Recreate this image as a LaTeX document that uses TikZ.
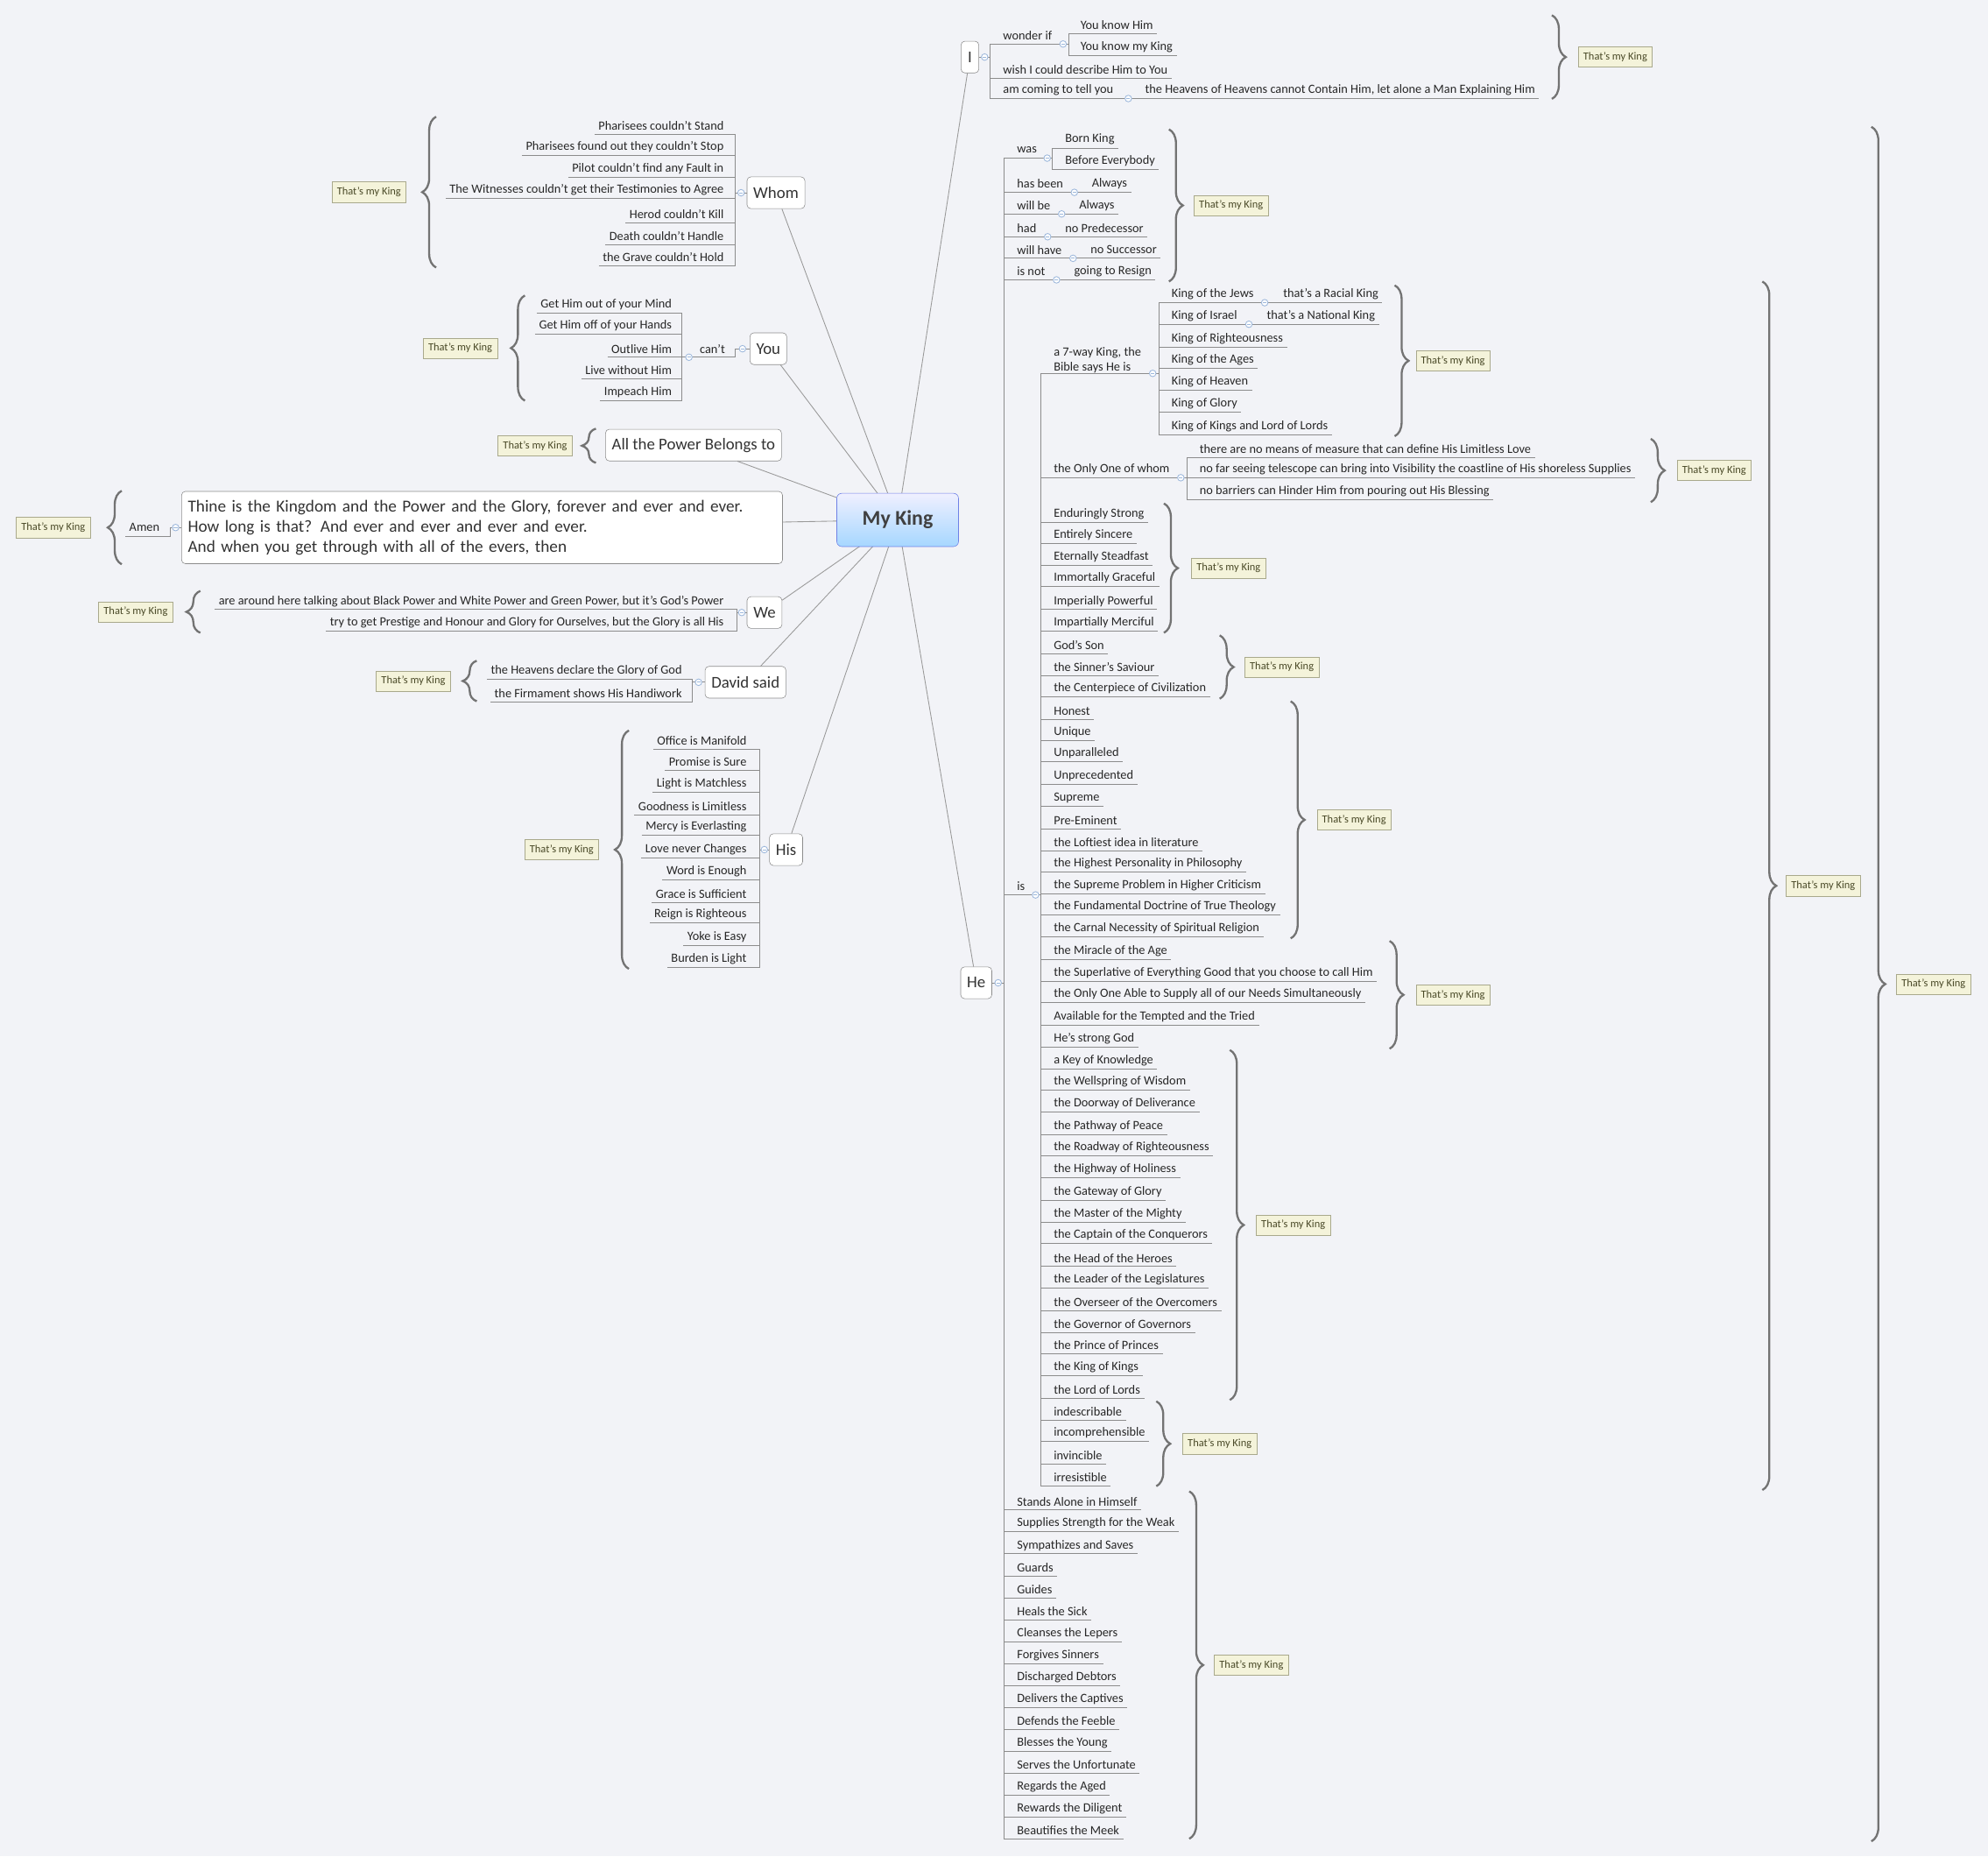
\documentclass[tikz,border=0pt]{standalone}
\usepackage{fontspec}
\setmainfont{Carlito}
\usetikzlibrary{decorations.pathreplacing,calc}
\pgfdeclarelayer{bg}\pgfsetlayers{bg,main}
\definecolor{bgc}{HTML}{F2F3F7}
\definecolor{boxf}{HTML}{F4F3DA}
\definecolor{boxd}{HTML}{A9A98C}
\definecolor{boxt}{HTML}{4A4A28}
\definecolor{mkc}{HTML}{9DB8DC}
\tikzset{
 lf/.style={inner xsep=3pt,inner ysep=0pt,minimum height=13pt,font=\fontsize{9.9}{11}\selectfont,text=black!85,
   append after command={(\tikzlastnode.south west) edge[draw=black!45,line width=0.6pt] (\tikzlastnode.south east)}},
 cn/.style={draw=black!45,line width=0.6pt},
 sb/.style={draw=black!45,rounded corners=3pt,fill=white,font=\fontsize{13}{15}\selectfont,inner xsep=5pt,minimum height=25pt,text=black!80},
 tk/.style={draw=boxd,fill=boxf,text=boxt,font=\fontsize{8.6}{10}\selectfont,inner xsep=4pt,minimum height=16pt},
 brc/.style={draw=black!55,line width=1.6pt,decorate,decoration={brace,amplitude=11pt,aspect=0.5}},
 kl/.style={draw=black!40,line width=0.6pt}
}
\newcommand\rleaf[4]{\node[lf,anchor=west] (#1) at (#2-3,#3) {#4};}
\newcommand\lleaf[4]{\node[lf,anchor=east] (#1) at (#2+3,#3) {#4};}
\newcommand\mkr[1]{\filldraw[draw=mkc,fill=white,line width=0.6pt] #1 circle (2.6pt); \draw[mkc,line width=0.6pt] ($#1+(-1.4,0)$) -- ($#1+(1.4,0)$);}
\newcommand\spn[3]{\coordinate (#1) at (#2.south east -| #3,0); \draw[cn] (#2.south east) -- (#1); \mkr{($(#2.south east)!0.55!(#1)$)}}
\newcommand\spb[3]{\coordinate (#1) at (#2.east -| #3,0); \draw[cn] (#2.east) -- (#1); \mkr{($(#2.east)!0.5!(#1)$)}}
\newcommand\spl[3]{\coordinate (#1) at (#2.west -| #3,0); \draw[cn] (#2.west) -- (#1); \mkr{($(#2.west)!0.5!(#1)$)}}
\newcommand\splf[3]{\coordinate (#1) at (#2.south west -| #3,0); \draw[cn] (#2.south west) -- (#1); \mkr{($(#2.south west)!0.5!(#1)$)}}
\newcommand\braceR[5]{\draw[brc] (#1,#2) -- (#1,#3); \node[tk] (#4) at (#5,{(#2+#3)/2}) {That's my King};}
\newcommand\braceL[5]{\draw[brc] (#1,#3) -- (#1,#2); \node[tk] (#4) at (#5,{(#2+#3)/2}) {That's my King};}
\begin{document}
\begin{tikzpicture}[x=1pt,y=-1pt]
\useasboundingbox (0,0) rectangle (1568,1464);
\node[draw=mkc!70!blue,rounded corners=4pt,top color=blue!6!white,bottom color=blue!45!cyan!35!white,minimum width=96pt,minimum height=42pt,font=\fontsize{16.5}{18}\selectfont\bfseries,text=black!75] (king) at (708,410) {My King};
\node[sb,minimum width=14pt] (I) at (765,45) {I};
\node[sb] (He) at (770,775) {He};
\node[sb] (Whom) at (612,152) {Whom};
\node[sb] (You) at (606,275) {You};
\node[sb] (Power) at (547,351) {All the Power Belongs to};
\node[sb,anchor=west,text width=464pt,align=left,inner sep=5pt,minimum height=57pt,font=\fontsize{13.3}{16}\selectfont] (Big) at (143,416) {Thine is the Kingdom and the Power and the Glory, forever and ever and ever.\\How long is that? And ever and ever and ever and ever.\\And when you get through with all of the evers, then};
\node[sb] (We) at (603,483) {We};
\node[sb] (David) at (588,538) {David said};
\node[sb] (His) at (620,670) {His};
\begin{pgfonlayer}{bg}
\fill[bgc] (0,0) rectangle (1568,1464);
\foreach \n in {I,He,Whom,You,Power,Big,We,David,His} \draw[kl] (king.center) -- (\n);
\end{pgfonlayer}
% ---------- I
\spb{sI}{I}{781}
\rleaf{i1}{791}{28}{wonder if}
\rleaf{i2}{791}{55}{wish I could describe Him to You}
\rleaf{i3}{791}{71}{am coming to tell you}
\foreach \c in {i1,i2,i3} \draw[cn] (sI) |- (\c.south west);
\spn{si1}{i1}{843}
\rleaf{i11}{852}{20}{You know Him}
\rleaf{i12}{852}{37}{You know my King}
\foreach \c in {i11,i12} \draw[cn] (si1) |- (\c.south west);
\spn{si3}{i3}{897}
\rleaf{i31}{903}{71}{the Heavens of Heavens cannot Contain Him, let alone a Man Explaining Him}
\draw[cn] (si3) |- (i31.south west);
\braceR{1224}{12}{78}{tI}{1274}
% ---------- He
\spb{sH}{He}{792}
\rleaf{h1}{802}{118}{was}
\rleaf{h2}{802}{145}{has been}
\rleaf{h3}{802}{162}{will be}
\rleaf{h4}{802}{180}{had}
\rleaf{h5}{802}{197}{will have}
\rleaf{h6}{802}{214}{is not}
\rleaf{h7}{802}{699}{is}
\foreach \t [count=\k] in {Stands Alone in Himself,Supplies Strength for the Weak,Sympathizes and Saves,Guards,Guides,Heals the Sick,Cleanses the Lepers,Forgives Sinners,Discharged Debtors,Delivers the Captives,Defends the Feeble,Blesses the Young,Serves the Unfortunate,Regards the Aged,Rewards the Diligent,Beautifies the Meek}{
  \pgfmathsetmacro\yy{1184+(\k-1)*17.3}
  \rleaf{hv\k}{802}{\yy}{\t}
  \draw[cn] (sH) |- (hv\k.south west);}
\foreach \c in {h1,h2,h3,h4,h5,h6,h7} \draw[cn] (sH) |- (\c.south west);
\spn{sh1}{h1}{830}
\rleaf{h11}{840}{110}{Born King}
\rleaf{h12}{840}{127}{Before Everybody}
\foreach \c in {h11,h12} \draw[cn] (sh1) |- (\c.south west);
\spn{sh2}{h2}{852}\rleaf{h21}{861}{145}{Always}\draw[cn] (sh2) |- (h21.south west);
\spn{sh3}{h3}{842}\rleaf{h31}{851}{162}{Always}\draw[cn] (sh3) |- (h31.south west);
\spn{sh4}{h4}{831}\rleaf{h41}{840}{180}{no Predecessor}\draw[cn] (sh4) |- (h41.south west);
\spn{sh5}{h5}{851}\rleaf{h51}{860}{197}{no Successor}\draw[cn] (sh5) |- (h51.south west);
\spn{sh6}{h6}{838}\rleaf{h61}{847}{214}{going to Resign}\draw[cn] (sh6) |- (h61.south west);
\braceR{922}{102}{222}{tHa}{971}
\braceR{938}{1176}{1450}{tHb}{987}
% ---------- is
\spn{sis}{h7}{821}
\node[lf,anchor=west,align=left,font=\fontsize{9.9}{12}\selectfont] (s1) at (828,284) {a 7-way King, the\\Bible says He is};
\rleaf{s2}{831}{370}{the Only One of whom}
\draw[cn] (sis) |- (s1.south west);
\draw[cn] (sis) |- (s2.south west);
\foreach \t/\yy [count=\k] in {Enduringly Strong/405,Entirely Sincere/422,Eternally Steadfast/439,Immortally Graceful/456,Imperially Powerful/474,Impartially Merciful/491,
 God's Son/509,the Sinner's Saviour/526,the Centerpiece of Civilization/543,
 Honest/561,Unique/577,Unparalleled/594,Unprecedented/612,Supreme/629,Pre-Eminent/647,the Loftiest idea in literature/664,the Highest Personality in Philosophy/681,the Supreme Problem in Higher Criticism/698,the Fundamental Doctrine of True Theology/715,the Carnal Necessity of Spiritual Religion/732,
 the Miracle of the Age/750,the Superlative of Everything Good that you choose to call Him/767,the Only One Able to Supply all of our Needs Simultaneously/784,Available for the Tempted and the Tried/802,He's strong God/819,
 a Key of Knowledge/836,the Wellspring of Wisdom/853,the Doorway of Deliverance/870,the Pathway of Peace/888,the Roadway of Righteousness/905,the Highway of Holiness/922,the Gateway of Glory/940,the Master of the Mighty/957,the Captain of the Conquerors/974,the Head of the Heroes/992,the Leader of the Legislatures/1009,the Overseer of the Overcomers/1027,the Governor of Governors/1044,the Prince of Princes/1061,the King of Kings/1078,the Lord of Lords/1096,
 indescribable/1113,incomprehensible/1130,invincible/1148,irresistible/1165}{
  \rleaf{sv\k}{831}{\yy}{\t}
  \draw[cn] (sis) |- (sv\k.south west);}
\spn{ss1}{s1}{914}
\foreach \t/\yy [count=\k] in {King of the Jews/232,King of Israel/249,King of Righteousness/267,King of the Ages/284,King of Heaven/301,King of Glory/318,King of Kings and Lord of Lords/336}{
  \rleaf{k\k}{924}{\yy}{\t}
  \draw[cn] (ss1) |- (k\k.south west);}
\spn{sk1}{k1}{1002}\rleaf{k11}{1012}{232}{that's a Racial King}\draw[cn] (sk1) |- (k11.south west);
\spn{sk2}{k2}{990}\rleaf{k21}{999}{249}{that's a National King}\draw[cn] (sk2) |- (k21.south west);
\braceR{1100}{225}{344}{tK}{1146}
\spn{ss2}{s2}{936}
\rleaf{o1}{946}{354}{there are no means of measure that can define His Limitless Love}
\rleaf{o2}{946}{370}{no far seeing telescope can bring into Visibility the coastline of His shoreless Supplies}
\rleaf{o3}{946}{387}{no barriers can Hinder Him from pouring out His Blessing}
\foreach \c in {o1,o2,o3} \draw[cn] (ss2) |- (\c.south west);
\braceR{1302}{346}{396}{tO}{1352}
\braceR{918}{397}{499}{tE}{969}
\braceR{962}{501}{551}{tG}{1011}
\braceR{1018}{553}{740}{tHo}{1068}
\braceR{1096}{742}{827}{tM}{1146}
\braceR{970}{828}{1104}{tKe}{1020}
\braceR{912}{1105}{1172}{tIn}{962}
\braceR{1390}{222}{1175}{tIs}{1438}
\braceR{1476}{100}{1452}{tHe}{1525}
% ---------- Whom
\spl{sW}{Whom}{580}
\foreach \t/\yy [count=\k] in {Pharisees couldn't Stand/99,Pharisees found out they couldn't Stop/116,Pilot couldn't find any Fault in/133,The Witnesses couldn't get their Testimonies to Agree/150,Herod couldn't Kill/169,Death couldn't Handle/186,the Grave couldn't Hold/203}{
  \lleaf{w\k}{571}{\yy}{\t}
  \draw[cn] (sW) |- (w\k.south east);}
\braceL{344}{92}{211}{tW}{291}
% ---------- You
\spl{sY}{You}{580}
\lleaf{cant}{572}{275}{can't}
\draw[cn] (sY) |- (cant.south east);
\splf{sC}{cant}{538}
\foreach \t/\yy [count=\k] in {Get Him out of your Mind/240,Get Him off of your Hands/257,Outlive Him/275,Live without Him/292,Impeach Him/309}{
  \lleaf{y\k}{530}{\yy}{\t}
  \draw[cn] (sC) |- (y\k.south east);}
\braceL{414}{233}{316}{tY}{363}
\braceL{470}{338}{365}{tP}{422}
% ---------- Amen
\spl{sB}{Big}{134}
\lleaf{amen}{126}{416}{Amen}
\draw[cn] (sB) |- (amen.south east);
\braceL{96}{387}{445}{tA}{42}
% ---------- We
\spl{sWe}{We}{581}
\lleaf{we1}{571}{474}{are around here talking about Black Power and White Power and Green Power, but it's God's Power}
\lleaf{we2}{571}{491}{try to get Prestige and Honour and Glory for Ourselves, but the Glory is all His}
\foreach \c in {we1,we2} \draw[cn] (sWe) |- (\c.south east);
\braceL{158}{466}{499}{tWe}{107}
% ---------- David
\spl{sD}{David}{546}
\lleaf{d1}{538}{529}{the Heavens declare the Glory of God}
\lleaf{d2}{538}{547}{the Firmament shows His Handiwork}
\foreach \c in {d1,d2} \draw[cn] (sD) |- (\c.south east);
\braceL{376}{521}{553}{tD}{326}
% ---------- His
\spl{sHi}{His}{599}
\foreach \t/\yy [count=\k] in {Office is Manifold/584,Promise is Sure/601,Light is Matchless/618,Goodness is Limitless/636,Mercy is Everlasting/652,Love never Changes/670,Word is Enough/687,Grace is Sufficient/705,Reign is Righteous/721,Yoke is Easy/739,Burden is Light/756}{
  \lleaf{hs\k}{589}{\yy}{\t}
  \draw[cn] (sHi) |- (hs\k.south east);}
\braceL{496}{576}{764}{tHi}{443}
\end{tikzpicture}
\end{document}
